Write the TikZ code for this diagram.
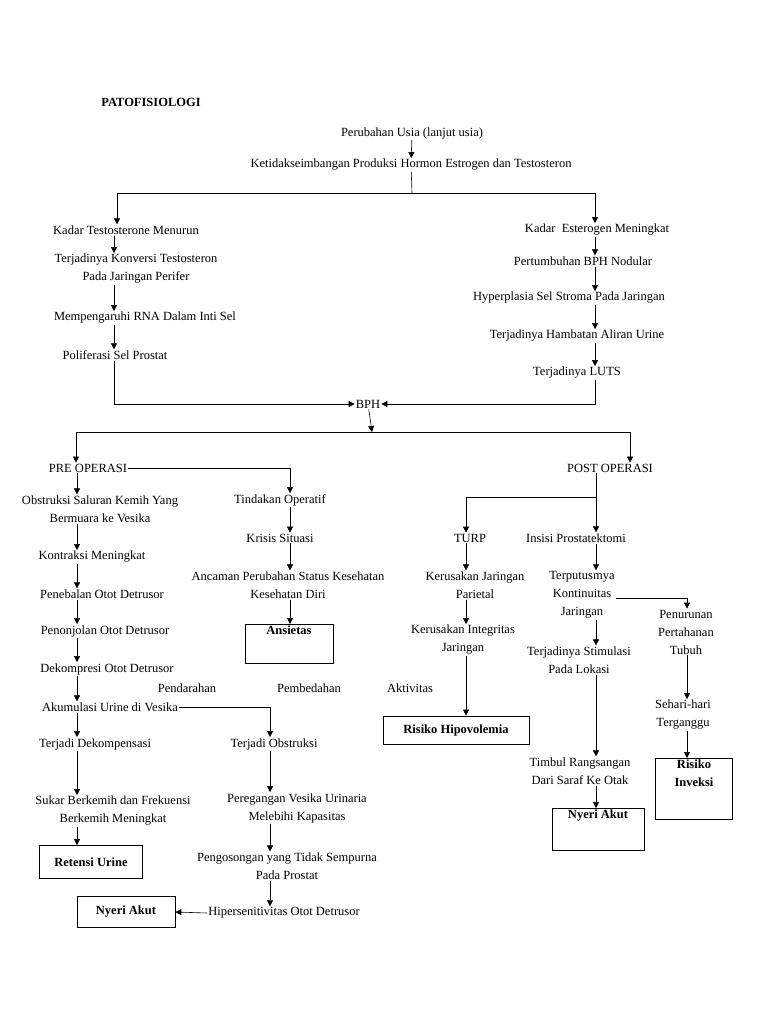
\documentclass[tikz,border=0pt]{standalone}
\usepackage{fontspec}
\setmainfont{Liberation Serif}
\usetikzlibrary{arrows.meta,positioning}

\begin{document}
\begin{tikzpicture}[x=1pt,y=-1pt]
   \tikzstyle{every node}=[font=\fontsize{12.5}{18}\selectfont, align=center, inner sep=1pt]
   \tikzstyle{arr}=[-{Triangle[length=6pt,width=6pt]}, line width=0.6pt]
   \tikzstyle{ln}=[line width=0.6pt]
   \tikzstyle{box}=[draw, line width=0.8pt, font=\fontsize{12.5}{18}\selectfont\bfseries]
   \useasboundingbox (0,0) rectangle (768,1024);

   \node[font=\fontsize{12.5}{18}\selectfont\bfseries] (T) at (151,102) {PATOFISIOLOGI};
   \node (U) at (412,133) {Perubahan Usia (lanjut usia)};
   \node (H) at (411,165) {Ketidakseimbangan Produksi Hormon Estrogen dan Testosteron};
   \coordinate (s1) at (412,193);
   \coordinate (sl) at (117,193);
   \coordinate (sr) at (595,193);

   % left
   \node (L1) at (126,230) {Kadar Testosterone Menurun};
   \node (L2) at (136,269) {Terjadinya Konversi Testosteron\\Pada Jaringan Perifer};
   \node (L3) at (145,318) {Mempengaruhi RNA Dalam Inti Sel};
   \node (L4) at (115,355) {Poliferasi Sel Prostat};
   % right
   \node (R1) at (597,230) {Kadar \ Esterogen Meningkat};
   \node (R2) at (583,261) {Pertumbuhan BPH Nodular};
   \node (R3) at (569,298) {Hyperplasia Sel Stroma Pada Jaringan};
   \node (R4) at (577,336) {Terjadinya Hambatan Aliran Urine};
   \node (R5) at (577,373) {Terjadinya LUTS};
   \node (B) at (368,404) {BPH};
   \coordinate (b1) at (372,432);

   % pre operasi
   \node (P0) at (88,468) {PRE OPERASI};
   \node (P1) at (100,509) {Obstruksi Saluran Kemih Yang\\Bermuara ke Vesika};
   \node (P2) at (92,557) {Kontraksi Meningkat};
   \node (P3) at (102,594) {Penebalan Otot Detrusor};
   \node (P4) at (105,631) {Penonjolan Otot Detrusor};
   \node (P5) at (107,669) {Dekompresi Otot Detrusor};
   \node (P6) at (110,707) {Akumulasi Urine di Vesika};
   \node (P7) at (95,744) {Terjadi Dekompensasi};
   \node (P8) at (113,811) {Sukar Berkemih dan Frekuensi\\Berkemih Meningkat};
   \node[box, minimum width=103pt, minimum height=33pt] (P9) at (91,862) {Retensi Urine};
   \node (Q1) at (280,500) {Tindakan Operatif};
   \node (Q2) at (280,538) {Krisis Situasi};
   \node (Q3) at (288,585) {Ancaman Perubahan Status Kesehatan\\Kesehatan Diri};
   \node[box, minimum width=88pt, minimum height=34pt, anchor=north] (Q4) at (289,624) {Ansietas\\[10pt]};
   \node (K1) at (187,688) {Pendarahan};
   \node (K2) at (309,688) {Pembedahan};
   \node (O1) at (274,744) {Terjadi Obstruksi};
   \node (O2) at (297,808) {Peregangan Vesika Urinaria\\Melebihi Kapasitas};
   \node (O3) at (287,866) {Pengosongan yang Tidak Sempurna\\Pada Prostat};
   \node (O4) at (284,913) {Hipersenitivitas Otot Detrusor};
   \node[box, minimum width=98pt, minimum height=31pt] (O5) at (126,912) {Nyeri Akut};

   % post operasi
   \node (S0) at (610,468) {POST OPERASI};
   \coordinate (p1) at (596,497);
   \coordinate (p2) at (466,497);
   \node (S1) at (470,538) {TURP};
   \node (S2) at (475,585) {Kerusakan Jaringan\\Parietal};
   \node (S3) at (463,640) {Kerusakan Integritas\\Jaringan};
   \node (S4) at (410,688) {Aktivitas};
   \node[box, minimum width=146pt, minimum height=28pt] (S5) at (456,730) {Risiko Hipovolemia};
   \node (I1) at (576,538) {Insisi Prostatektomi};
   \node (I2) at (582,595) {Terputusmya\\Kontinuitas\\Jaringan};
   \node (I3) at (579,660) {Terjadinya Stimulasi\\Pada Lokasi};
   \node (I4) at (580,771) {Timbul Rangsangan\\Dari Saraf Ke Otak};
   \node[box, minimum width=92pt, minimum height=42pt, anchor=north] (I5) at (598,808) {Nyeri Akut\\[12pt]};
   \node (J1) at (686,632) {Penurunan\\Pertahanan\\Tubuh};
   \node (J2) at (683,715) {Sehari-hari\\Terganggu};
   \node[box, minimum width=77pt, minimum height=60pt, anchor=north] (J3) at (694,758) {Risiko\\Inveksi\\[14pt]};

   \draw[arr] (U) -- (H);
   \draw[ln] (H) -- (s1);
   \draw[ln] (sl) -- (sr);
   \draw[arr] (sl) -- ([xshift=-9pt]L1.north);
   \draw[arr] (sr) -- ([xshift=-2pt]R1.north);
   \draw[arr] ([xshift=-12pt]L1.south) -- ([xshift=-22pt]L2.north);
   \draw[arr] ([xshift=-22pt]L2.south) -- ([xshift=-31pt]L3.north);
   \draw[arr] ([xshift=-31pt]L3.south) -- ([xshift=-1pt]L4.north);
   \draw[arr] ([xshift=-2pt]R1.south) -- ([xshift=12pt]R2.north);
   \draw[arr] ([xshift=12pt]R2.south) -- ([xshift=26pt]R3.north);
   \draw[arr] ([xshift=26pt]R3.south) -- ([xshift=18pt]R4.north);
   \draw[arr] ([xshift=18pt]R4.south) -- ([xshift=18pt]R5.north);
   \draw[arr] ([xshift=-1pt]L4.south) |- (B.west);
   \draw[arr] ([xshift=18pt]R5.south) |- (B.east);
   \draw[arr] (B) -- (b1);
   \draw[ln] (76,432) -- (630,432);
   \draw[arr] (76,432) -- ([xshift=-12pt]P0.north);
   \draw[arr] (630,432) -- ([xshift=20pt]S0.north);

   \draw[arr] (P0.east) -| (Q1.north -| 290,0);
   \foreach \a/\b in {P0/P1,P1/P2,P2/P3,P3/P4,P4/P5,P5/P6,P6/P7,P7/P8,P8/P9}
      \draw[arr] (\a.south -| 77,0) -- (\b.north -| 77,0);
   \foreach \a/\b in {Q1/Q2,Q2/Q3,Q3/Q4}
      \draw[arr] (\a.south -| 290,0) -- (\b.north -| 290,0);
   \draw[arr] (P6.east) -| (O1.north -| 270,0);
   \foreach \a/\b in {O1/O2,O2/O3,O3/O4}
      \draw[arr] (\a.south -| 270,0) -- (\b.north -| 270,0);
   \draw[arr] (O4.west) -- (O5.east);

   \draw[ln] (S0.south -| p1) -- (p1) -- (p2);
   \draw[arr] (p2) -- (S1.north -| p2);
   \draw[arr] (p1) -- (I1.north -| p1);
   \foreach \a/\b in {S1/S2,S2/S3,S3/S5}
      \draw[arr] (\a.south -| p2) -- (\b.north -| p2);
   \foreach \a/\b in {I1/I2,I2/I3,I3/I4,I4/I5}
      \draw[arr] (\a.south -| p1) -- (\b.north -| p1);
   \draw[arr] ([yshift=-3pt]I2.east) -| (J1.north -| 687,0);
   \foreach \a/\b in {J1/J2,J2/J3}
      \draw[arr] (\a.south -| 687,0) -- (\b.north -| 687,0);
\end{tikzpicture}
\end{document}
